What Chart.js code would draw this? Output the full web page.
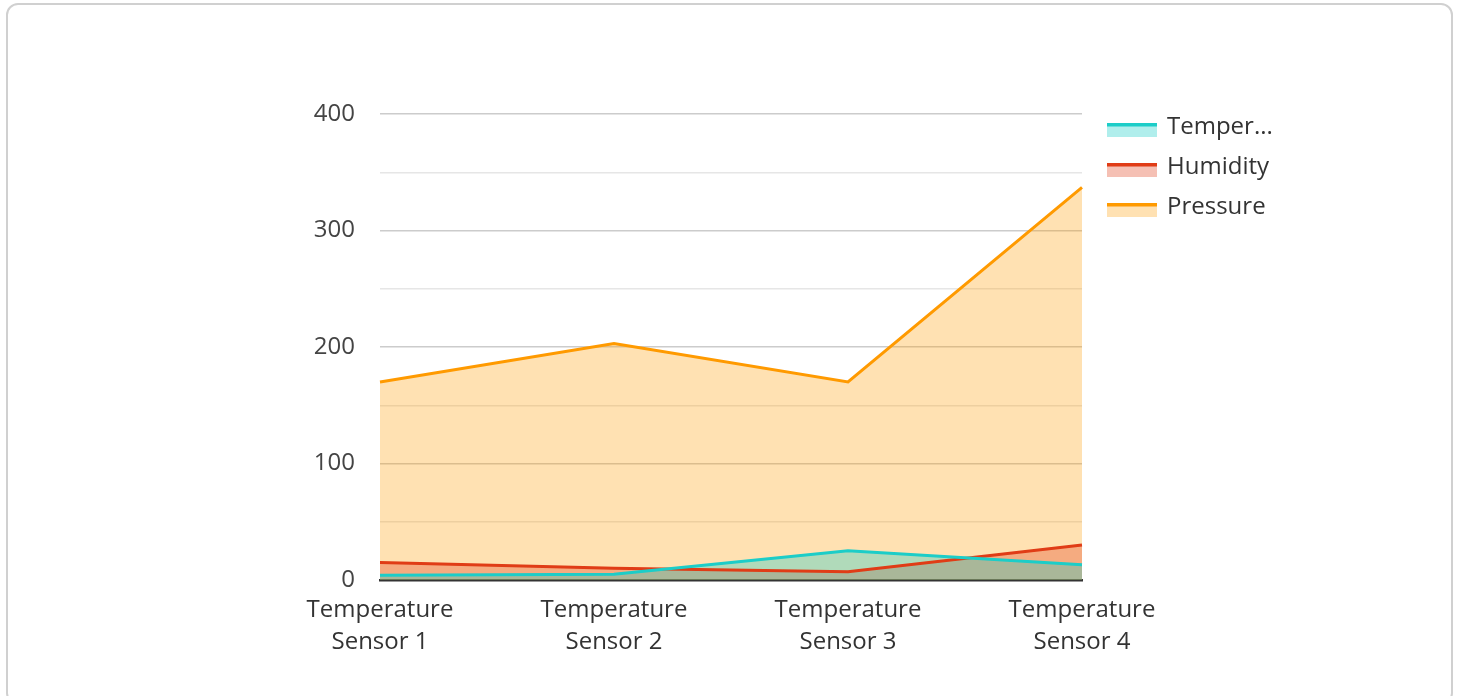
<!DOCTYPE html>
<html lang="en">
<head>
  <meta charset="UTF-8" />
  <title>Sensor Readings</title>
  <script src="https://cdn.jsdelivr.net/npm/chart.js"></script>
  <style>
    html, body { margin:0; padding:0; background:#fff; font-family:'Open Sans', sans-serif; }
    .card {
      position:absolute; left:6px; top:3px; width:1447px; height:702px;
      border:2px solid #d0d0d0; border-radius:12px; box-sizing:border-box;
    }
    #wrap { position:absolute; left:0; top:0; width:1458px; height:696px; }
  </style>
</head>
<body>
  <div class="card"></div>
  <div id="wrap"><canvas id="sensorChart"></canvas></div>

  <script>
    const sensors = [['Temperature', 'Sensor 1'], ['Temperature', 'Sensor 2'], ['Temperature', 'Sensor 3'], ['Temperature', 'Sensor 4']];
    const seriesNames = ['Temperature', 'Humidity', 'Pressure'];
    const legendLabels = ['Temper...', 'Humidity', 'Pressure'];
    const temperature = [4, 5, 25, 13];
    const humidity = [15, 10, 7, 30];
    const pressure = [170, 203, 170, 337];
    const lineColors = ['#1ccdc8', '#e03c16', '#ff9a00'];
    const fillColors = ['rgba(28,205,200,0.35)', 'rgba(224,60,22,0.32)', 'rgba(255,154,0,0.3)'];

    // legend drawn by hand: colored strip with a line on top, like the original
    const boxLegend = {
      id: 'boxLegend',
      afterDraw(chart) {
        const ctx = chart.ctx;
        ctx.save();
        legendLabels.forEach((txt, i) => {
          const y = 123 + i * 40;
          ctx.fillStyle = fillColors[i];
          ctx.fillRect(1107, y, 50, 14);
          ctx.fillStyle = lineColors[i];
          ctx.fillRect(1107, y, 50, 3.5);
          ctx.fillStyle = '#333';
          ctx.font = '24px "Open Sans"';
          ctx.textBaseline = 'middle';
          ctx.fillText(txt, 1167, y + 4);
        });
        ctx.restore();
      }
    };

    const values = [temperature, humidity, pressure];
    const ctx = document.getElementById('sensorChart').getContext('2d');
    new Chart(ctx, {
      type: 'line',
      data: {
        labels: sensors,
        datasets: seriesNames.map((name, i) => ({
          label: name,
          data: values[i],
          borderColor: lineColors[i],
          backgroundColor: fillColors[i],
          borderWidth: 3,
          fill: 'origin',
          tension: 0,
          pointRadius: 0
        }))
      },
      options: {
        responsive: true,
        maintainAspectRatio: false,
        animation: false,
        layout: { padding: { left: 0, right: 376, top: 114, bottom: 0 } },
        plugins: {
          legend: { display: false },
          tooltip: { enabled: false },
          filler: { drawTime: 'beforeDatasetsDraw' }
        },
        scales: {
          x: {
            offset: false,
            grid: { display: false },
            border: { color: '#333', width: 2.5 },
            ticks: { color: '#333', font: { family: 'Open Sans', size: 24, lineHeight: 1.34 }, maxRotation: 0, padding: 6 },
            afterFit(scale) { scale.height = 116; }
          },
          y: {
            min: 0, max: 400,
            border: { display: false },
            grid: {
              color: c => c.tick.value % 100 === 0 ? '#cccccc' : '#e6e6e6',
              lineWidth: c => c.tick.value === 0 ? 0 : 1.5,
              drawTicks: false
            },
            ticks: {
              stepSize: 50,
              color: '#444',
              padding: 25,
              font: { family: 'Open Sans', size: 24 },
              callback: v => v % 100 === 0 ? v : ''
            },
            afterFit(scale) { scale.width = 380; }
          }
        }
      },
      plugins: [boxLegend]
    });
  </script>
</body>
</html>
